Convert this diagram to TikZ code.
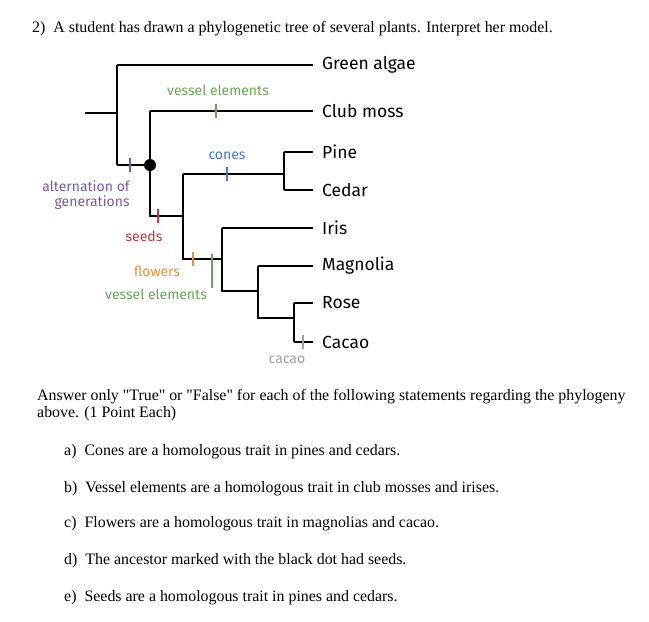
\documentclass[tikz,border=0pt]{standalone}
\usepackage{fontspec}
\setmainfont{Liberation Serif}
\newfontfamily\hand{Fira Sans}
\begin{document}
\begin{tikzpicture}[x=1pt,y=-1pt,
  br/.style={line width=2pt,black},
  tk/.style={line width=2.2pt},
  sp/.style={anchor=west,font=\hand\fontsize{17.5}{20}\selectfont,inner sep=0pt},
  tr/.style={font=\hand\fontsize{14}{15}\selectfont,inner sep=0pt},
  txt/.style={anchor=west,inner sep=0pt,font=\fontsize{15.9}{18}\selectfont}]
\useasboundingbox (0,0) rectangle (649,622);
\definecolor{cgreen}{RGB}{100,170,80}
\definecolor{cpurple}{RGB}{120,90,170}
\definecolor{cred}{RGB}{210,50,60}
\definecolor{cblue}{RGB}{70,120,200}
\definecolor{corange}{RGB}{235,145,60}
\definecolor{cgrey}{RGB}{160,160,160}
\node[txt] (title) at (32,29) {2)\ \ A student has drawn a phylogenetic tree of several plants. Interpret her model.};
% tree
\coordinate (r0) at (85,113);
\coordinate (r1) at (117,113);
\coordinate (a) at (117,65);
\coordinate (b) at (117,165);
\coordinate (n1) at (150,165);
\node[sp] (ga) at (322,65) {Green algae};
\node[sp] (cm) at (322,111) {Club moss};
\node[sp] (pi) at (322,152) {Pine};
\node[sp] (ce) at (322,190) {Cedar};
\node[sp] (ir) at (322,228) {Iris};
\node[sp] (ma) at (322,266) {Magnolia};
\node[sp] (ro) at (322,303) {Rose};
\node[sp] (ca) at (322,342) {Cacao};
\draw[br] (r0) -- (r1);
\draw[br] (a) -- (b);
\draw[br] (a) -- ([xshift=-9pt]ga.west);
\draw[br] (b) -- (n1);
\draw[br] (150,111) -- (150,216) -- (183,216);
\draw[br] (150,111) -- ([xshift=-9pt]cm.west);
\draw[br] (183,174) -- (183,259) -- (222,259);
\draw[br] (183,174) -- (284,174);
\draw[br] (284,152) -- (284,190);
\draw[br] (284,152) -- ([xshift=-9pt]pi.west);
\draw[br] (284,190) -- ([xshift=-9pt]ce.west);
\draw[br] (222,228) -- (222,291) -- (258,291);
\draw[br] (222,228) -- ([xshift=-9pt]ir.west);
\draw[br] (258,266) -- (258,318) -- (294,318);
\draw[br] (258,266) -- ([xshift=-9pt]ma.west);
\draw[br] (294,303) -- (294,342);
\draw[br] (294,303) -- ([xshift=-9pt]ro.west);
\draw[br] (294,342) -- ([xshift=-9pt]ca.west);
\fill (n1) circle (6);
% ticks
\draw[tk,cpurple] (130,158) -- (130,172);
\draw[tk,cgreen] (216,104) -- (216,118);
\draw[tk,cred] (158,209) -- (158,223);
\draw[tk,cblue] (227,167) -- (227,181);
\draw[tk,corange] (193,252) -- (193,266);
\draw[tk,cgreen] (212,254) -- (212,288);
\draw[tk,cgrey] (303,335) -- (303,349);
% trait labels
\node[tr,cgreen] (ve1) at (218,90) {vessel elements};
\node[tr,cblue] (co) at (227,156) {cones};
\node[tr,cpurple,align=right] (ag) at (86,195) {alternation of\\\ \ generations};
\node[tr,cred] (se) at (144,236) {seeds};
\node[tr,corange] (fl) at (157,271) {flowers};
\node[tr,cgreen] (ve2) at (156,294) {vessel elements};
\node[tr,cgrey] (cc) at (287,360) {cacao};
% text
\node[txt] (q1) at (37,397) {Answer only \textquotedbl True\textquotedbl{} or \textquotedbl False\textquotedbl{} for each of the following statements regarding the phylogeny};
\node[txt] (q2) at (37,414) {above. (1 Point Each)};
\node[txt] (ia) at (64,452) {a)\hspace{8pt}Cones are a homologous trait in pines and cedars.};
\node[txt] (ib) at (64,489) {b)\hspace{8pt}Vessel elements are a homologous trait in club mosses and irises.};
\node[txt] (ic) at (64,524) {c)\hspace{8pt}Flowers are a homologous trait in magnolias and cacao.};
\node[txt] (id) at (64,561) {d)\hspace{8pt}The ancestor marked with the black dot had seeds.};
\node[txt] (ie) at (64,598) {e)\hspace{8pt}Seeds are a homologous trait in pines and cedars.};
\end{tikzpicture}
\end{document}
